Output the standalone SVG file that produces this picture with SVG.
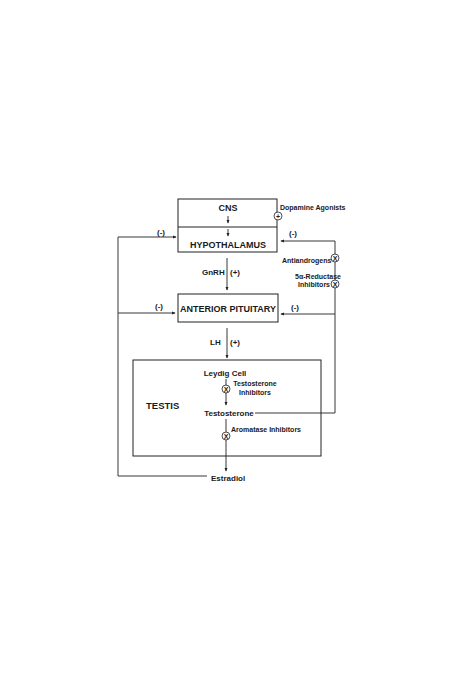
<svg xmlns="http://www.w3.org/2000/svg" width="474" height="673" viewBox="0 0 474 673">
<style>
.b{fill:none;stroke:#222;stroke-width:1}
.l{fill:none;stroke:#222;stroke-width:0.9}
text{font-family:"Liberation Sans",Arial,sans-serif;font-weight:bold;fill:#1a1a1a}
.t9{font-size:9px}
.t8{font-size:8px}
.t7{font-size:7px}
.c{fill:#fff;stroke:#222;stroke-width:0.8}
</style>
<defs>
<marker id="a" viewBox="0 0 6 6" refX="5" refY="3" markerWidth="4" markerHeight="4" orient="auto"><path d="M0,0.5 L6,3 L0,5.5 z" fill="#222"/></marker>
</defs>
<rect width="474" height="673" fill="#fff"/>
<g id="cns">
<rect class="b" x="178" y="199" width="99" height="53"/>
<line class="b" x1="178" y1="227" x2="277" y2="227"/>
<text class="t9" x="228" y="211" text-anchor="middle">CNS</text>
</g>
<g id="hypothalamus">
<text class="t9" x="228" y="248" text-anchor="middle">HYPOTHALAMUS</text>
</g>
<g id="dopamine">
<text class="t7" x="280" y="210">Dopamine Agonists</text>
<circle class="c" cx="278" cy="216" r="4"/>
<text class="t7" x="278" y="218.5" text-anchor="middle">+</text>
</g>
<g id="pituitary">
<rect class="b" x="178" y="294" width="100" height="28"/>
<text class="t9" x="228" y="312" text-anchor="middle" textLength="96" lengthAdjust="spacingAndGlyphs">ANTERIOR PITUITARY</text>
</g>
<g id="testis">
<rect class="b" x="133" y="360" width="188" height="96"/>
<text x="146" y="409" style="font-size:9.5px">TESTIS</text>
<text class="t8" x="225" y="376" text-anchor="middle">Leydig Cell</text>
<text class="t8" x="229" y="416" text-anchor="middle">Testosterone</text>
<text class="t7" x="255" y="386" text-anchor="middle">Testosterone</text>
<text class="t7" x="255" y="395" text-anchor="middle">Inhibitors</text>
<text class="t7" x="231" y="432">Aromatase Inhibitors</text>
</g>
<g id="estradiol">
<text class="t8" x="211" y="481">Estradiol</text>
</g>
<g id="labels">
<text class="t8" x="202" y="275">GnRH</text>
<text class="t8" x="230" y="275">(+)</text>
<text class="t8" x="210" y="345">LH</text>
<text class="t8" x="230" y="345">(+)</text>
<text class="t8" x="157" y="235">(-)</text>
<text class="t8" x="289" y="236">(-)</text>
<text class="t8" x="155" y="309">(-)</text>
<text class="t8" x="291" y="310">(-)</text>
<text class="t7" x="282" y="263">Antiandrogens</text>
<text class="t7" x="341" y="279" text-anchor="end">5α-Reductase</text>
<text class="t7" x="330" y="287" text-anchor="end">Inhibitors</text>
</g>
<g id="connectors">
<line class="l" x1="228" y1="216" x2="228" y2="223" marker-end="url(#a)"/>
<line class="l" x1="228" y1="229" x2="228" y2="236" marker-end="url(#a)"/>
<line class="l" x1="227" y1="258" x2="227" y2="290" marker-end="url(#a)"/>
<line class="l" x1="227" y1="328" x2="227" y2="358" marker-end="url(#a)"/>
<line class="l" x1="226" y1="379" x2="226" y2="405" marker-end="url(#a)"/>
<line class="l" x1="226" y1="419" x2="226" y2="471" marker-end="url(#a)"/>
<polyline class="l" points="207,476 118,476 118,237 176,237" marker-end="url(#a)"/>
<line class="l" x1="118" y1="313" x2="175" y2="313" marker-end="url(#a)"/>
<polyline class="l" points="255,413 335,413 335,241 281,241" marker-end="url(#a)"/>
<line class="l" x1="335" y1="314" x2="281" y2="314" marker-end="url(#a)"/>
</g>
<g id="blockers">
<circle class="c" cx="335" cy="258" r="4"/><text class="t7" x="335" y="260.5" text-anchor="middle">X</text>
<circle class="c" cx="335" cy="284" r="4"/><text class="t7" x="335" y="286.5" text-anchor="middle">X</text>
<circle class="c" cx="226" cy="389" r="4"/><text class="t7" x="226" y="391.5" text-anchor="middle">X</text>
<circle class="c" cx="226" cy="436" r="4"/><text class="t7" x="226" y="438.5" text-anchor="middle">X</text>
</g>
</svg>
